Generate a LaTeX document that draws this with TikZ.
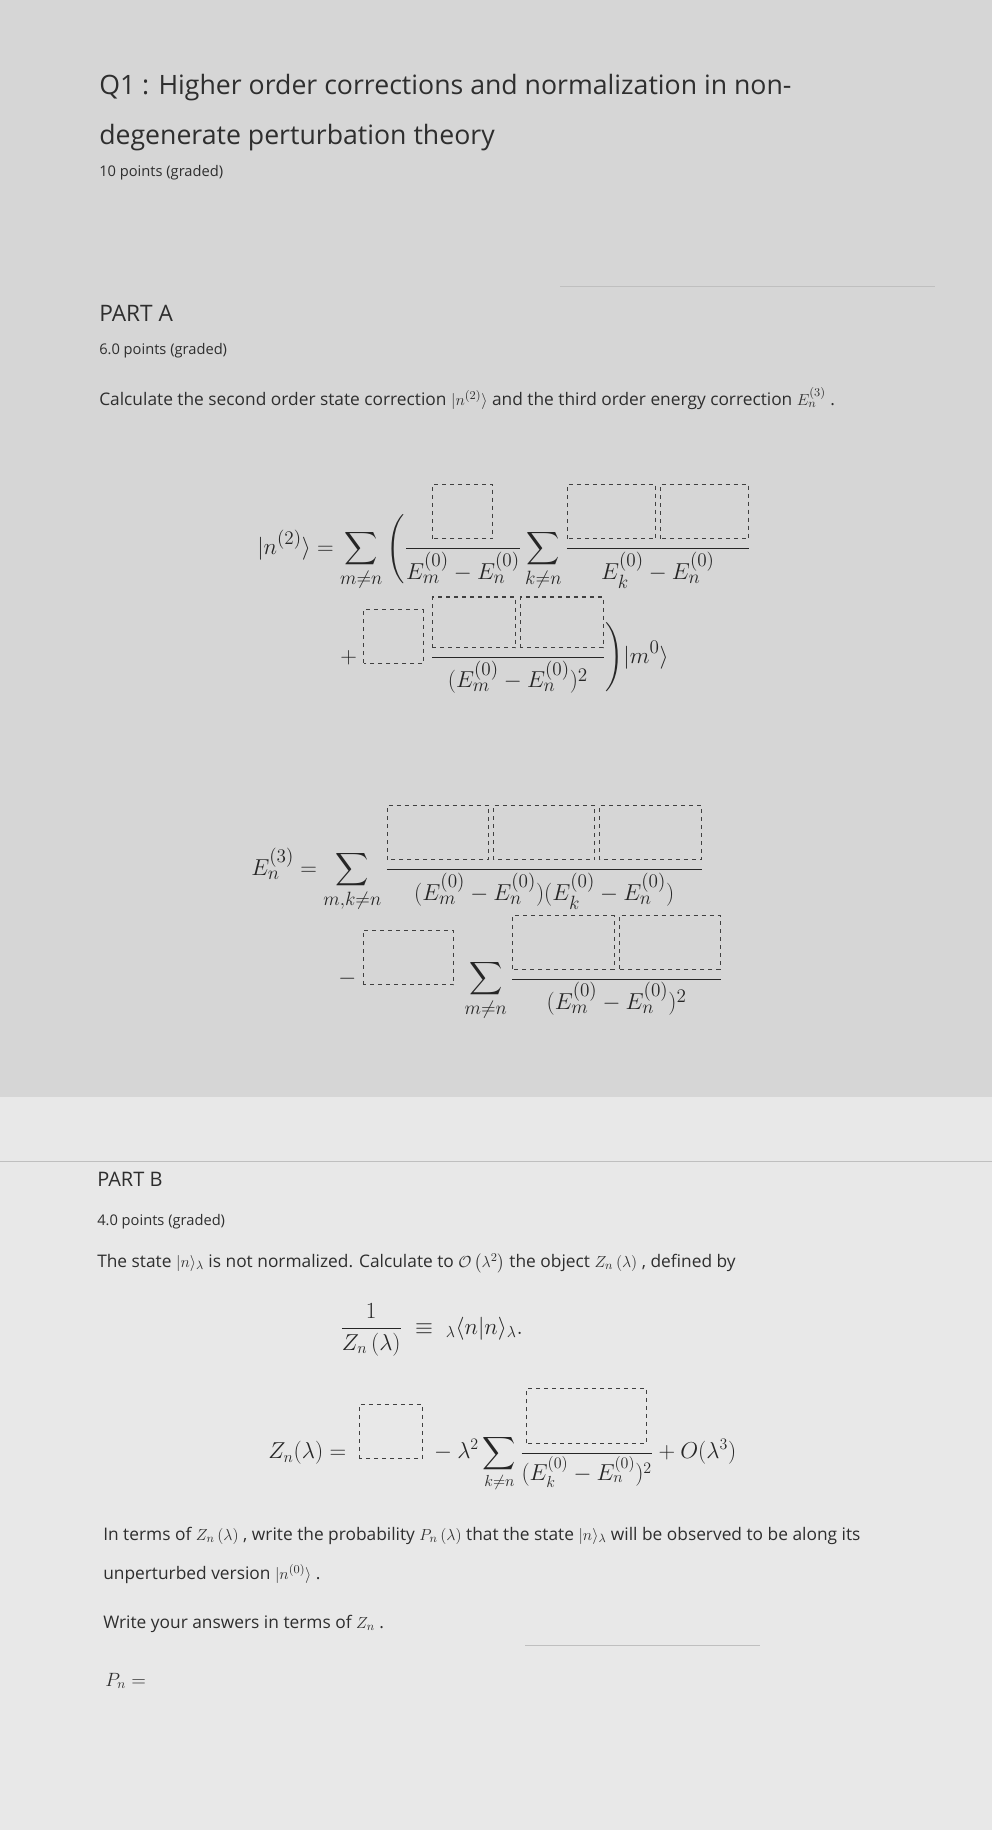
\documentclass[tikz,border=0pt]{standalone}
\usepackage{amsmath}
\usepackage{fontspec}
\setmainfont{Open Sans}
\newcommand\dbx[2]{\tikz[baseline=0pt]\draw[dashed,line width=0.8pt,color=black!75] (0,0) rectangle (#1pt,#2pt);}
\begin{document}
\begin{tikzpicture}[x=0.75pt,y=-0.75pt,
  txt/.style={anchor=base west,inner sep=0pt,text=black!82},
  eq/.style={anchor=west,inner sep=0pt,text=black!85,font=\fontsize{19}{23}\selectfont},
  eqz/.style={anchor=west,inner sep=0pt,text=black!85,font=\fontsize{17.5}{21}\selectfont},
  faint/.style={draw=black!25,line width=0.6pt}]
\fill[black!16] (0,0) rectangle (992,1097);
\fill[black!9] (0,1097) rectangle (992,1830);
\useasboundingbox (0,0) rectangle (992,1830);
\node[txt,font=\fontsize{20}{24}\selectfont] (t1) at (99,95) {Q1 : Higher order corrections and normalization in non-};
\node[txt,font=\fontsize{20}{24}\selectfont] (t2) at (99,145) {degenerate perturbation theory};
\node[txt,font=\fontsize{11}{13}\selectfont] (p1) at (99,176) {10 points (graded)};
\draw[faint] (560,286) -- (935,286);
\node[txt,font=\fontsize{17}{20}\selectfont] (pa) at (99,321) {PART A};
\node[txt,font=\fontsize{11}{13}\selectfont] (p2) at (99,354) {6.0 points (graded)};
\node[txt,font=\fontsize{13}{16}\selectfont] (c1) at (99,405) {Calculate the second order state correction $|n^{(2)}\rangle$ and the third order energy correction $E_n^{(3)}$ .};
\node[eq] (e1a) at (257,537) {$\displaystyle |n^{(2)}\rangle=\sum_{m\neq n}\Bigg(\frac{\dbx{45}{41}}{E_m^{(0)}-E_n^{(0)}}\sum_{k\neq n}\frac{\dbx{66}{41}\,\dbx{66}{41}}{\quad E_k^{(0)}-E_n^{(0)}\quad}$};
\node[eq] (e1b) at (340,645) {$\displaystyle +\;\dbx{45}{40}\;\frac{\dbx{62}{38}\,\dbx{62}{38}}{(E_m^{(0)}-E_n^{(0)})^2}\Bigg)|m^0\rangle$};
\node[eq] (e2a) at (251,858) {$\displaystyle E_n^{(3)}=\sum_{m,k\neq n}\frac{\dbx{76}{41}\,\dbx{76}{41}\,\dbx{76}{41}}{(E_m^{(0)}-E_n^{(0)})(E_k^{(0)}-E_n^{(0)})}$};
\node[eq] (e2b) at (338,968) {$\displaystyle -\;\dbx{68}{41}\;\sum_{m\neq n}\frac{\dbx{76}{40}\,\dbx{76}{40}}{(E_m^{(0)}-E_n^{(0)})^2}$};
\draw[faint] (0,1161) -- (992,1161);
\node[txt,font=\fontsize{15}{18}\selectfont] (pb) at (97,1186) {PART B};
\node[txt,font=\fontsize{11}{13}\selectfont] (p3) at (97,1225) {4.0 points (graded)};
\node[txt,font=\fontsize{13}{16}\selectfont] (s1) at (97,1267) {The state $|n\rangle_\lambda$ is not normalized. Calculate to $\mathcal{O}\left(\lambda^2\right)$ the object $Z_n\left(\lambda\right)$ , defined by};
\node[eqz] (z1) at (340,1330) {$\displaystyle \frac{1}{Z_n\left(\lambda\right)}\;\equiv\;{}_\lambda\langle n|n\rangle_\lambda.$};
\node[eqz] (z2) at (268,1440) {$\displaystyle Z_n(\lambda)=\;\dbx{47}{41}\;-\lambda^2\sum_{k\neq n}\frac{\dbx{90}{41}}{(E_k^{(0)}-E_n^{(0)})^2}+O(\lambda^3)$};
\node[txt,font=\fontsize{13}{16}\selectfont] (s2) at (103,1540) {In terms of $Z_n\left(\lambda\right)$ , write the probability $P_n\left(\lambda\right)$ that the state $|n\rangle_\lambda$ will be observed to be along its};
\node[txt,font=\fontsize{13}{16}\selectfont] (s3) at (103,1579) {unperturbed version $|n^{(0)}\rangle$ .};
\node[txt,font=\fontsize{13}{16}\selectfont] (s4) at (103,1628) {Write your answers in terms of $Z_n$ .};
\draw[faint] (525,1645) -- (760,1645);
\node[txt,font=\fontsize{14}{17}\selectfont] (pn) at (105,1686) {$P_n=$};
\end{tikzpicture}
\end{document}
